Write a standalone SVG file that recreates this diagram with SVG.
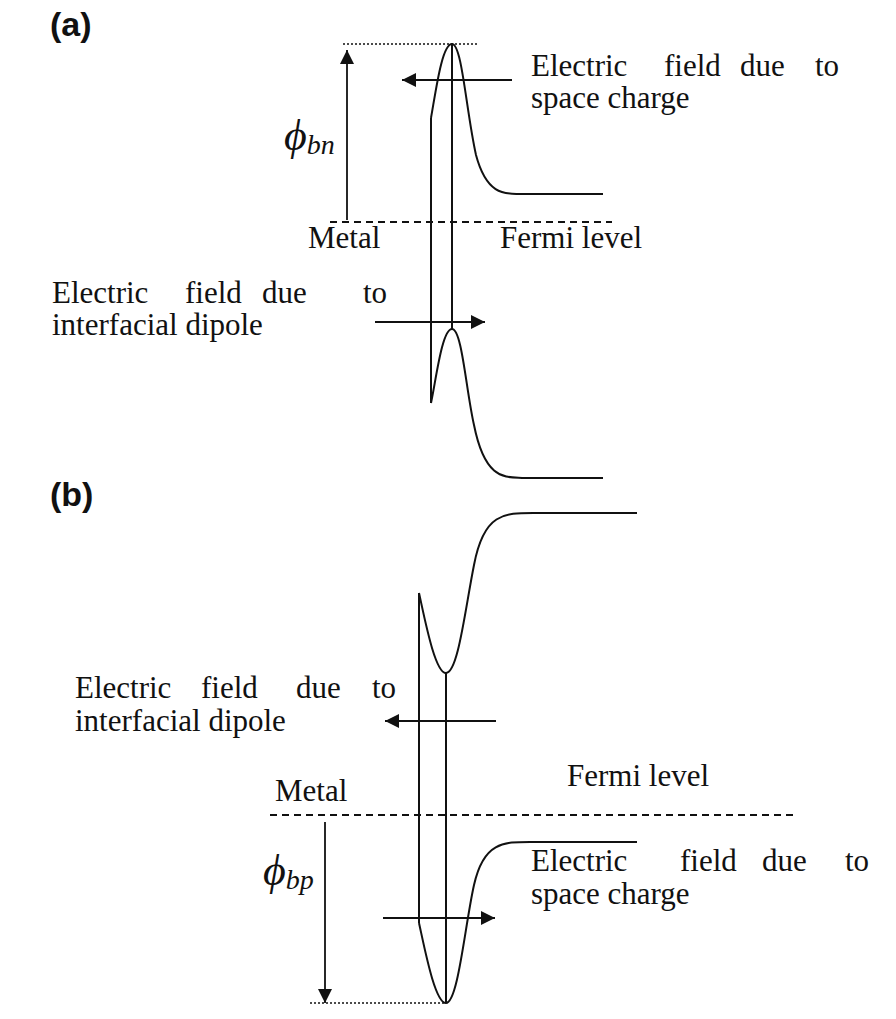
<svg xmlns="http://www.w3.org/2000/svg" width="896" height="1019" viewBox="0 0 896 1019">
<style>
.t{font-family:"Liberation Serif",serif;font-size:31px;fill:#111}
.h{font-family:"Liberation Sans",Arial,sans-serif;font-size:34px;font-weight:bold;fill:#111}
.ph{font-family:"Liberation Serif",serif;font-style:italic;fill:#111}
.c{fill:none;stroke:#111;stroke-width:2}
.dash{fill:none;stroke:#111;stroke-width:2;stroke-dasharray:7,5}
.dot{fill:none;stroke:#111;stroke-width:1.3;stroke-dasharray:2,2}
.ar{fill:none;stroke:#111;stroke-width:1.8;marker-end:url(#ah2)}
</style>
<defs>
<marker id="ah2" viewBox="0 0 10 10" refX="10" refY="5" markerWidth="14" markerHeight="14" markerUnits="userSpaceOnUse" orient="auto"><path d="M0,0 L10,5 L0,10 z" fill="#111"/></marker></defs>
<g id="panel-a">
<text class="h" x="50" y="36">(a)</text>
<text class="t" y="76"><tspan x="531">Electric</tspan><tspan x="664">field</tspan><tspan x="740">due</tspan><tspan x="815">to</tspan></text>
<text class="t" x="531" y="108">space charge</text>
<text class="t" x="308" y="248">Metal</text>
<text class="t" x="500" y="248">Fermi level</text>
<text class="t" y="303"><tspan x="52">Electric</tspan><tspan x="185">field</tspan><tspan x="262">due</tspan><tspan x="363">to</tspan></text>
<text class="t" x="52" y="335">interfacial dipole</text>
<text class="ph" x="284" y="150" font-size="44">ϕ<tspan font-size="28" dy="4">bn</tspan></text>
</g>
<g id="panel-b">
<text class="h" x="50" y="506">(b)</text>
<text class="t" y="698"><tspan x="75">Electric</tspan><tspan x="201">field</tspan><tspan x="296">due</tspan><tspan x="372">to</tspan></text>
<text class="t" x="75" y="731">interfacial dipole</text>
<text class="t" x="275" y="801">Metal</text>
<text class="t" x="567" y="786">Fermi level</text>
<text class="t" y="871"><tspan x="531">Electric</tspan><tspan x="680">field</tspan><tspan x="762">due</tspan><tspan x="845">to</tspan></text>
<text class="t" x="531" y="904">space charge</text>
<text class="ph" x="263" y="885" font-size="44">ϕ<tspan font-size="28" dy="4">bp</tspan></text>
</g>
<g id="connectors">
<line class="dot" x1="343" y1="44" x2="479" y2="44"/>
<line class="dash" x1="330" y1="222" x2="612" y2="222"/>
<line class="ar" x1="347" y1="220" x2="347" y2="50"/>
<line class="c" x1="431" y1="118" x2="431" y2="403"/>
<line class="c" x1="452" y1="44" x2="452" y2="329"/>
<path class="c" d="M431,118 C436,90 442,44 452,44 C462,44 466,110 476,155 C488,200 510,193 522,194 L603,194"/>
<path class="c" d="M431,403 C436,380 442,329 452,329 C462,329 466,390 474,425 C485,480 505,477 522,478 L603,478"/>
<line class="ar" x1="512" y1="80" x2="402" y2="80"/>
<line class="ar" x1="375" y1="322" x2="485" y2="322"/>
<line class="c" x1="419" y1="593" x2="419" y2="923"/>
<line class="c" x1="446" y1="673" x2="446" y2="1003"/>
<path class="c" d="M419,593 C425,620 435,673 446,673 C458,673 465,610 474,565 C484,512 505,513 535,513 L637,513"/>
<path class="c" d="M419,923 C425,950 435,1003 446,1003 C458,1003 465,925 474,885 C484,840 505,842 535,842 L637,842"/>
<line class="dash" x1="270" y1="815" x2="795" y2="815"/>
<line class="dot" x1="310" y1="1003" x2="446" y2="1003"/>
<line class="ar" x1="325" y1="822" x2="325" y2="1003"/>
<line class="ar" x1="496" y1="721" x2="385" y2="721"/>
<line class="ar" x1="383" y1="918" x2="495" y2="918"/>
</g>
</svg>
